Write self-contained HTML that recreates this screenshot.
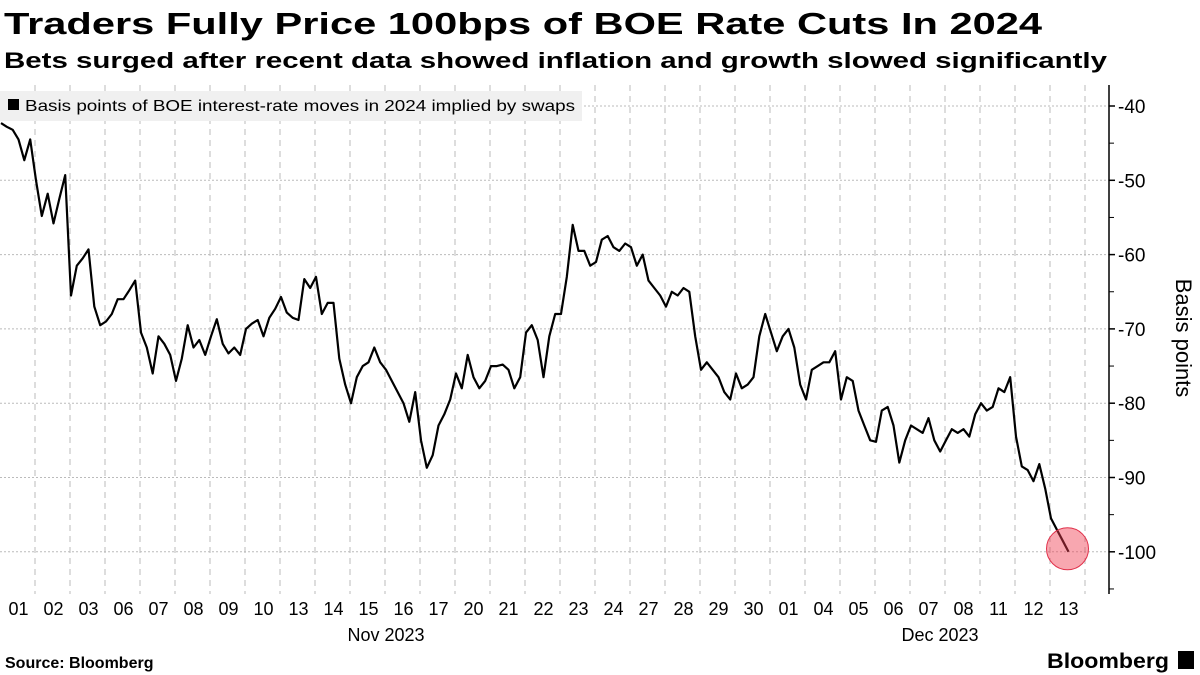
<!DOCTYPE html>
<html><head><meta charset="utf-8">
<style>
html,body{margin:0;padding:0;background:#fff;}
svg{display:block;font-family:"Liberation Sans",sans-serif;}
</style></head>
<body>
<svg id="chart" width="1200" height="675" viewBox="0 0 1200 675" xmlns="http://www.w3.org/2000/svg">
<text x="4" y="34" font-size="31" font-weight="bold" textLength="1038" lengthAdjust="spacingAndGlyphs">Traders Fully Price 100bps of BOE Rate Cuts In 2024</text>
<text x="4" y="68" font-size="22" font-weight="bold" textLength="1103" lengthAdjust="spacingAndGlyphs">Bets surged after recent data showed inflation and growth slowed significantly</text>
<g id="grid"></g>
<rect x="0" y="91" width="582" height="30" fill="#f0f0f0"/>
<rect x="8" y="99" width="11" height="11" fill="#000"/>
<text x="25" y="111" font-size="16" textLength="550" lengthAdjust="spacingAndGlyphs">Basis points of BOE interest-rate moves in 2024 implied by swaps</text>
<g id="series"></g>
<g id="yaxis"></g>
<g id="xaxis"></g>
<text transform="translate(1176,338) rotate(90)" text-anchor="middle" font-size="22">Basis points</text>
<text x="386" y="641" text-anchor="middle" font-size="18">Nov 2023</text>
<text x="940" y="641" text-anchor="middle" font-size="18">Dec 2023</text>
<text x="5" y="668" font-size="16" font-weight="bold">Source: Bloomberg</text>
<text x="1047" y="668" font-size="21" font-weight="bold" textLength="122" lengthAdjust="spacingAndGlyphs">Bloomberg</text>
<rect x="1178" y="651" width="16" height="18" fill="#000"/>
</svg>
<script>
const dayLabels = ["01","02","03","06","07","08","09","10","13","14","15","16","17","20","21","22","23","24","27","28","29","30","01","04","05","06","07","08","11","12","13"];
const yTicks = [-40,-50,-60,-70,-80,-90,-100];
const minorTicks = [-45,-55,-65,-75,-85,-95,-105];
const pointsPerDay = 6;
const values = [
-42.3,-42.8,-43.2,-44.5,-47.3,-44.5,
-50,-54.8,-51.8,-55.8,-52.5,-49.3,
-65.5,-61.5,-60.5,-59.3,-67,-69.5,
-69,-68,-66,-66,-64.8,-63.5,
-70.5,-72.5,-76,-71,-72,-73.5,
-77,-74,-69.5,-72.5,-71.5,-73.5,
-71,-68.7,-72,-73.3,-72.5,-73.5,
-70,-69.3,-68.8,-71,-68.5,-67.3,
-65.7,-67.8,-68.5,-68.8,-63.3,-64.5,
-63,-68,-66.5,-66.5,-74,-77.5,
-80,-76.5,-75,-74.5,-72.5,-74.5,
-75.5,-77,-78.5,-80,-82.5,-78.5,
-85,-88.7,-87,-83,-81.5,-79.5,
-76,-78,-73.5,-76.5,-78,-77,
-75,-75,-74.8,-75.5,-78,-76.5,
-70.5,-69.5,-71.5,-76.5,-71,-68,
-68,-63,-56,-59.5,-59.5,-61.5,
-61,-58,-57.5,-59,-59.5,-58.5,
-59,-61.5,-60,-63.5,-64.5,-65.5,
-67,-65,-65.5,-64.5,-65,-71,
-75.5,-74.5,-75.5,-76.5,-78.5,-79.5,
-76,-78,-77.5,-76.5,-71,-68,
-70.5,-73,-71,-70,-72.5,-77.5,
-79.5,-75.5,-75,-74.5,-74.5,-73,
-79.5,-76.5,-77,-81,-83,-85,
-85.2,-81,-80.5,-83,-88,-85,
-83,-83.5,-84,-82,-85,-86.5,
-85,-83.5,-84,-83.5,-84.5,-81.5,
-80,-81,-80.5,-78,-78.5,-76.5,
-84.5,-88.5,-89,-90.5,-88.2,-91.5,
-95.5,-97,-98.5,-100
];
const NS="http://www.w3.org/2000/svg";
const dayW=35, axisX=1109, plotTop=85, plotBottom=594;
function xScale(d){return 1+d*dayW;}
function yScale(v){return 106+(-40-v)*7.43;}
function mk(tag,attrs,parent){const e=document.createElementNS(NS,tag);for(const k in attrs)e.setAttribute(k,attrs[k]);parent.appendChild(e);return e;}
const grid=document.getElementById('grid'), series=document.getElementById('series'), yaxis=document.getElementById('yaxis'), xaxis=document.getElementById('xaxis');
for(let i=1;i<=dayLabels.length;i++){
  const l=mk('line',{x1:i*dayW,x2:i*dayW,y1:plotTop,y2:plotBottom,stroke:'#bbb','stroke-width':1,'stroke-dasharray':'6,5'},grid);
  
  
}
yTicks.forEach(v=>{
  const y=yScale(v);
  const g=mk('line',{x1:0,x2:axisX,y1:y,y2:y,stroke:'#bbb','stroke-width':1,'stroke-dasharray':'2,2'},grid);
  
  
  const t=mk('line',{x1:axisX,x2:axisX+6,y1:y,y2:y,stroke:'#000','stroke-width':1.5},yaxis);
  
  
  const tx=mk('text',{x:axisX+9,y:y+7,'font-size':19},yaxis);
  tx.textContent=String(v);
  
  
});
minorTicks.forEach(v=>{
  const y=yScale(v);
  const t=mk('line',{x1:axisX,x2:axisX+5,y1:y,y2:y,stroke:'#000','stroke-width':1},yaxis);
  
  
});
const ax=mk('line',{x1:axisX,x2:axisX,y1:plotTop,y2:plotBottom,stroke:'#000','stroke-width':1.5},yaxis);


dayLabels.forEach((d,i)=>{
  const t=mk('text',{x:xScale(i+0.5),y:615,'text-anchor':'middle','font-size':18},xaxis);
  t.textContent=d;
  
  
});
let dstr='';
values.forEach((v,i)=>{dstr+=(i?'L':'M')+xScale(i/pointsPerDay).toFixed(1)+','+yScale(v).toFixed(1);});
const path=mk('path',{d:dstr,fill:'none',stroke:'#000','stroke-width':2.2,'stroke-linejoin':'round'},series);


const li=values.length-1;
const c=mk('circle',{cx:xScale(li/pointsPerDay)-1,cy:yScale(values[li])-3,r:21,fill:'rgba(240,60,80,0.45)',stroke:'#e0304a','stroke-width':1},series);


</script>
</body></html>
